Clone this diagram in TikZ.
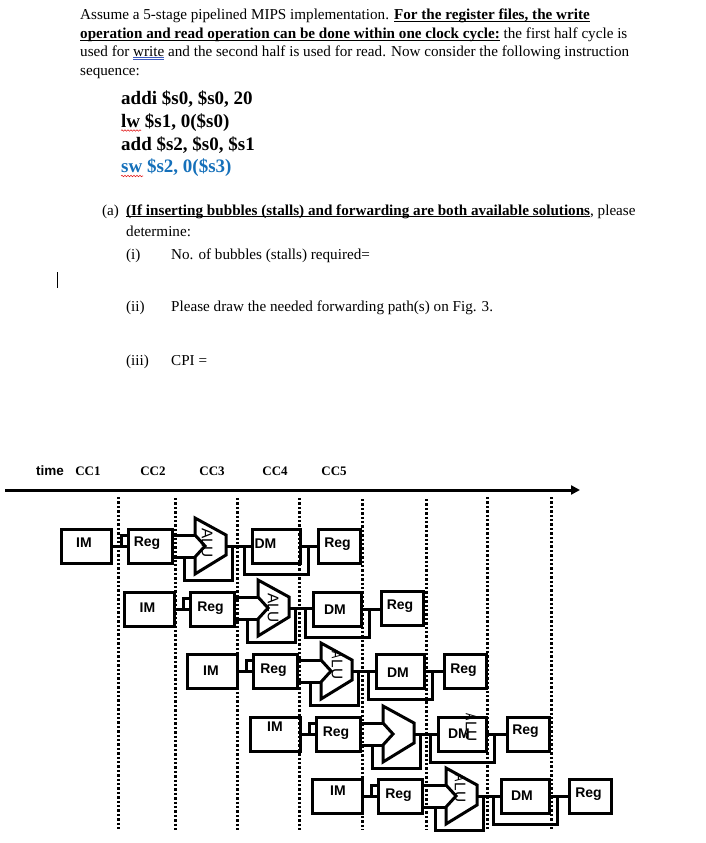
\documentclass[tikz,border=0pt]{standalone}
\usepackage{fontspec}
\setmainfont{Liberation Serif}
\setsansfont{Liberation Sans}
\usepackage{xcolor}
\usepackage{graphicx}
\usepackage{tikz}
\usetikzlibrary{arrows.meta,decorations.pathmorphing}
\definecolor{codeblue}{RGB}{21,112,186}
\definecolor{spellred}{RGB}{226,30,30}
\definecolor{grammarblue}{RGB}{60,90,190}
% bold text with a rule close under the baseline
\newcommand{\boldline}[1]{\setbox0=\hbox{\textbf{#1}}\rlap{\rule[-1.8pt]{\wd0}{0.9pt}}\box0\relax}
% box text: move left by half of #1, raise by #2
\newcommand{\boxtext}[3]{\raisebox{#2pt}[10pt][0pt]{#3}\kern#1pt}
\newcommand{\aluword}{\scalebox{0.7}[1]{A}\kern1pt LU}

\begin{document}
\begin{tikzpicture}[
  x=1pt, y=-1pt,
  textline/.style={anchor=base west, inner sep=0pt, font=\fontsize{15.15}{17}\selectfont},
  codeline/.style={anchor=base west, inner sep=0pt, font=\fontsize{19}{20}\selectfont\bfseries},
  timelabel/.style={inner sep=0pt, font=\sffamily\bfseries\fontsize{13.5}{15}\selectfont},
  cclabel/.style={inner sep=0pt, font=\bfseries\fontsize{13}{15}\selectfont},
  stagebox/.style={draw, line width=3pt, minimum height=34pt, inner sep=0pt, outer sep=0pt,
                   font=\sffamily\bfseries\fontsize{14}{16}\selectfont},
  imbox/.style={stagebox, minimum width=50pt},
  regbox/.style={stagebox, minimum width=44pt},
  regend/.style={stagebox, minimum width=42pt},
  dmbox/.style={stagebox, minimum width=48pt},
  alutext/.style={rotate=-90, inner sep=0pt, font=\sffamily\fontsize{15.4}{16}\selectfont},
  wire/.style={line width=3pt},
  dotline/.style={line width=3pt, dash pattern=on 2.4pt off 2pt},
  spell/.style={spellred, line width=0.6pt, decorate, decoration={snake, amplitude=0.7pt, segment length=3pt}}
]
\useasboundingbox (0,0) rectangle (705,843);

% question text
\node[textline] (l1) at (80,20) {Assume a 5-stage pipelined MIPS implementation. \boldline{For the register files, the write}};
\node[textline] (l2) at (80,39) {\boldline{operation and read operation can be done within one clock cycle:} the first half cycle is};
\node[textline] (l3) at (80,57) {used for write and the second half is used for read. Now consider the following instruction};
\node[textline] (l4) at (80,76) {sequence:};
\draw[grammarblue, line width=0.6pt] (133,57.8) -- (164,57.8) (133,59.5) -- (164,59.5);

\node[codeline] (c1) at (121,104) {addi \$s0, \$s0, 20};
\node[codeline] (c2) at (121,127) {lw \$s1, 0(\$s0)};
\node[codeline] (c3) at (121,150) {add \$s2, \$s0, \$s1};
\node[codeline, text=codeblue] (c4) at (121,172) {sw \$s2, 0(\$s3)};
\draw[spell] (121,130.5) -- (141,130.5);
\draw[spell] (121,176) -- (143,176);

\node[textline] (a0) at (102,215) {(a)};
\node[textline] (a1) at (126,215) {\boldline{(If inserting bubbles (stalls) and forwarding are both available solutions}, please};
\node[textline] (a2) at (126,236) {determine:};
\node[textline] (i1) at (126,259) {(i)};
\node[textline] (t1) at (171,259) {No. of bubbles (stalls) required=};
\node[textline] (i2) at (126,311) {(ii)};
\node[textline] (t2) at (171,311) {Please draw the needed forwarding path(s) on Fig. 3.};
\node[textline] (i3) at (126,365) {(iii)};
\node[textline] (t3) at (171,365) {CPI =};
\draw[line width=0.8pt] (57.5,272) -- (57.5,288);

% time axis
\node[timelabel] (time) at (50,471) {time};
\node[cclabel] (cc1) at (88,471) {CC1};
\node[cclabel] (cc2) at (153,471) {CC2};
\node[cclabel] (cc3) at (212,471) {CC3};
\node[cclabel] (cc4) at (275,471) {CC4};
\node[cclabel] (cc5) at (334,471) {CC5};
\coordinate (axisa) at (5,490);
\coordinate (axisb) at (580,490);
\draw[line width=3pt, -{Triangle[length=9pt, width=9pt]}] (axisa) -- (axisb);

\foreach \x/\t in {118/497,175/498,237/498,299/498,362/499,426/499,487/497,551/497}
  \draw[dotline] (\x,\t) -- (\x,830);

% stage boxes
\node[imbox] (im1) at (86,546) {\boxtext{4}{3.5}{IM}};
\node[regbox] (rega1) at (150,546) {\boxtext{6}{4.5}{Reg}};
\node[dmbox] (dm1) at (276,546) {\boxtext{21}{2.5}{DM}};
\node[regend] (regb1) at (339,546) {\boxtext{3}{4}{Reg}};

\node[imbox] (im2) at (149,609) {\boxtext{3}{2}{IM}};
\node[regbox] (rega2) at (212,609) {\boxtext{3}{3}{Reg}};
\node[dmbox] (dm2) at (337,609) {\boxtext{4}{0}{DM}};
\node[regend] (regb2) at (402,608) {\boxtext{4}{4}{Reg}};

\node[imbox] (im3) at (212,671) {\boxtext{2}{1}{IM}};
\node[regbox] (rega3) at (275,671) {\boxtext{3}{3}{Reg}};
\node[dmbox] (dm3) at (400,671) {\boxtext{4}{-1}{DM}};
\node[regend] (regb3) at (465,671) {\boxtext{3}{3}{Reg}};

\node[imbox] (im4) at (275,734) {\boxtext{0}{8}{IM}};
\node[regbox] (rega4) at (338,734) {\boxtext{4}{3}{Reg}};
\node[dmbox] (dm4) at (462,734) {\boxtext{6}{1}{DM}};
\node[regend] (regb4) at (528,734) {\boxtext{5}{5}{Reg}};

\node[imbox] (im5) at (337,796) {\boxtext{-2}{6}{IM}};
\node[regbox] (rega5) at (400,796) {\boxtext{3}{3}{Reg}};
\node[dmbox] (dm5) at (525,796) {\boxtext{6}{1}{DM}};
\node[regend] (regb5) at (590,796) {\boxtext{3}{4}{Reg}};

% ALU shapes and their wires
\foreach \r/\x/\y in {1/195/518,2/258/580,3/321/643,4/383/706,5/446/768} {
  \draw[wire, line join=miter] (\x,\y) -- ++(31,17) -- ++(0,20) -- ++(-31,19) -- ++(0,-17)
    -- ++(10,-11) -- ++(-10,-11) -- cycle;
  \coordinate (ina\r) at (\x,\y+17);
  \coordinate (inb\r) at (\x,\y+39);
  \coordinate (out\r) at (\x+31,\y+28);
  \coordinate (tap\r) at (\x+37,\y+28);
  \coordinate (loopa\r) at (\x-11,\y+39);
  \coordinate (loopb\r) at (\x-11,\y+62);
  \draw[wire] (im\r) -- (rega\r);
  \draw[wire] ([xshift=-7pt]rega\r.west) -- ++(0,-11) -- ++(7,0);
  \draw[wire] (rega\r.east |- ina\r) -- (ina\r);
  \draw[wire] (rega\r.east |- inb\r) -- (inb\r);
  \draw[wire] (loopa\r) -- (loopb\r) -| (tap\r);
  \draw[wire] (out\r) -- (out\r -| dm\r.west);
  \draw[wire] ([xshift=-8pt]out\r -| dm\r.west) -- ([xshift=-8pt,yshift=-11pt]dm\r.south west)
    -- ([xshift=8pt,yshift=-11pt]dm\r.south east) -- ([xshift=8pt]dm\r.east);
  \draw[wire] (dm\r.east) -- (regb\r.west |- dm\r.east);
}

% ALU labels
\node[alutext] (alu1) at (207,543) {ALU};
\node[alutext] (alu2) at (273,608) {ALU};
\node[alutext] (alu3) at (337,665.5) {\aluword};
\node[alutext] (alu4) at (471,727.5) {\aluword};
\node[alutext] (alu5) at (460,788.5) {\aluword};

\end{tikzpicture}
\end{document}
